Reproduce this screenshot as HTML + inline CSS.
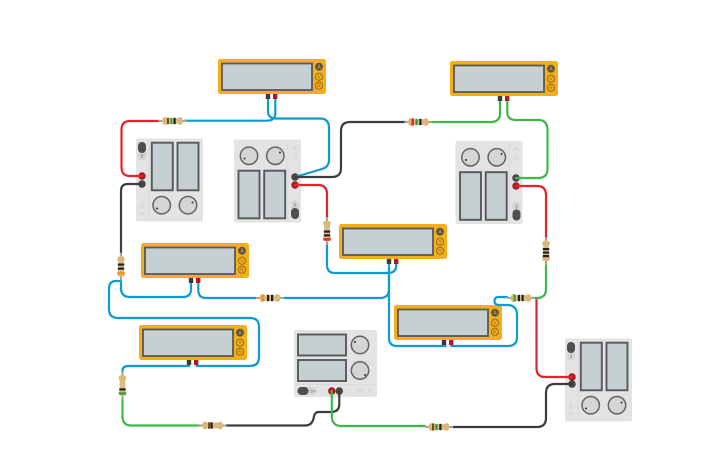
<!DOCTYPE html>
<html>
<head>
<meta charset="utf-8">
<style>
html,body{margin:0;padding:0;background:#fff;width:725px;height:453px;overflow:hidden}
svg{display:block}
text{font-family:"Liberation Sans",sans-serif}
</style>
</head>
<body>
<svg width="725" height="453" viewBox="0 0 725 453" xmlns="http://www.w3.org/2000/svg">
<defs>
<g id="meter">
  <rect x="0" y="0" width="108" height="35" rx="2.5" fill="#f5ae1b"/>
  <rect x="4" y="4.500" width="90" height="26.500" fill="#c6cfd1" stroke="#55595a" stroke-width="1.800"/>
  <circle cx="101" cy="7.700" r="3.900" fill="#55534c"/>
  <circle cx="101" cy="17.700" r="3.600" fill="none" stroke="#8a6a1c" stroke-width=".9"/>
  <circle cx="101" cy="26.700" r="3.600" fill="none" stroke="#8a6a1c" stroke-width=".9"/>
  <text x="101" y="9.500" font-size="5" text-anchor="middle" fill="#f5ae1b">A</text>
  <text x="101" y="19.500" font-size="5" text-anchor="middle" fill="#8a6a1c">V</text>
  <text x="101" y="28.500" font-size="5" text-anchor="middle" fill="#8a6a1c">R</text>
</g>
<g id="supply">
  <rect x="0" y="0" width="67" height="83" rx="1.500" fill="#e3e3e3"/>
  <rect x="12.800" y="0" width=".6" height="83" fill="#d4d4d4"/>
  <rect x="15.800" y="4.200" width="21" height="47.600" fill="#c6cfd1" stroke="#55595a" stroke-width="1.900"/>
  <rect x="41.500" y="4.200" width="21" height="47.600" fill="#c6cfd1" stroke="#55595a" stroke-width="1.900"/>
  <circle cx="25.700" cy="66.700" r="8.700" fill="#d4d6d6" stroke="#636363" stroke-width="1.500"/>
  <circle cx="52" cy="66.700" r="8.700" fill="#d4d6d6" stroke="#636363" stroke-width="1.500"/>
  <circle cx="21" cy="70" r="1" fill="#333"/>
  <circle cx="56.500" cy="64" r="1" fill="#333"/>
  <rect x="2" y="4" width="8" height="18" rx="4" fill="#d4d4d4"/>
  <rect x="2" y="3.500" width="8" height="11" rx="4" fill="#4f4f4f"/>
  <rect x="5.200" y="15.500" width="1.600" height="4" fill="#aaa"/>
  <rect x="4" y="63" width="4" height="7" fill="#dcdcdc"/>
  <rect x="4" y="74" width="4" height="2" fill="#d5d5d5"/>
</g>
<g id="res">
  <rect x="-14" y="-1" width="28" height="2" fill="#a3a3a3"/>
  <rect x="-8" y="-2.800" width="16" height="5.600" fill="#d9bb85"/>
  <ellipse cx="-7.500" cy="0" rx="3" ry="3.900" fill="#dcb77a"/>
  <ellipse cx="7.500" cy="0" rx="3" ry="3.900" fill="#dcb77a"/>
</g>
</defs>

<use href="#supply" x="136" y="138.500"/>
<use href="#supply" x="565" y="338.500"/>
<use href="#supply" transform="rotate(180 267.500 181)" x="234" y="139.500"/>
<use href="#supply" transform="rotate(180 489 182.500)" x="455.500" y="141"/>

<rect x="294" y="330" width="83" height="67" rx="1.500" fill="#e3e3e3"/>
<rect x="294" y="384" width="83" height=".6" fill="#d4d4d4"/>
<rect x="298" y="334.500" width="48" height="21" fill="#c6cfd1" stroke="#55595a" stroke-width="1.900"/>
<rect x="298" y="360" width="48" height="21" fill="#c6cfd1" stroke="#55595a" stroke-width="1.900"/>
<circle cx="360" cy="345" r="8.700" fill="#d4d6d6" stroke="#636363" stroke-width="1.500"/>
<circle cx="360" cy="370.500" r="8.700" fill="#d4d6d6" stroke="#636363" stroke-width="1.500"/>
<circle cx="355" cy="342" r="1" fill="#333"/>
<circle cx="365" cy="375" r="1" fill="#333"/>
<rect x="298" y="387" width="18" height="8" rx="4" fill="#d4d4d4"/>
<rect x="297.500" y="387" width="11" height="8" rx="4" fill="#4f4f4f"/>
<text x="309.500" y="392.500" font-size="3.600" fill="#888">OFF</text>
<rect x="356" y="389" width="8" height="4" fill="#dcdcdc"/>
<rect x="369" y="389" width="2" height="4" fill="#d5d5d5"/>

<g fill="#c0141c" stroke="#8d1a1c" stroke-width=".6">
<circle cx="142" cy="176" r="3.400"/><circle cx="295" cy="185" r="3.400"/><circle cx="516" cy="186" r="3.400"/><circle cx="572" cy="377" r="3.400"/><circle cx="331.800" cy="391" r="3.400"/>
</g>
<g fill="#4a4a4a" stroke="#333" stroke-width=".6">
<circle cx="142" cy="184" r="3.400"/><circle cx="295" cy="177" r="3.400"/><circle cx="516" cy="178" r="3.400"/><circle cx="572" cy="384" r="3.400"/><circle cx="339.300" cy="391" r="3.400"/>
</g>

<use href="#meter" x="218" y="59"/>
<use href="#meter" x="450" y="61"/>
<use href="#meter" x="141" y="243"/>
<use href="#meter" x="139" y="325"/>
<use href="#meter" x="339" y="224"/>
<use href="#meter" x="394" y="305"/>

<g fill="none" stroke-width="2.200" stroke-linecap="round" stroke-linejoin="round">
<g stroke="#0f9bd2">
<path d="M275.300 98V113Q275.300 120.700 267 120.700H185"/>
<path d="M268 98V111Q268 118.500 276 118.500H320Q329 118.500 329 128V160Q329 167 322 169L295 177"/>
<path d="M327 243V265Q327 273 335 273H388Q396.300 273 396.300 265V263"/>
<path d="M389 263V338Q389 346 397 346H445.500"/>
<path d="M451.300 344V346H508Q517 346 517 337V315Q517 305 507 305H499Q494.500 305 494.500 301Q494.500 297 499 297H507"/>
<path d="M389 270V289Q389 298 380 298H284"/>
<path d="M198.300 283V290Q198.300 298 206 298H256"/>
<path d="M191 283V289Q191 297 183 297H130Q121 297 121 288V280"/>
<path d="M121 281H116Q109 281 109 289V309Q109 318 118 318H250Q259 318 259 327V357Q259 366 250 366H196.500"/>
<path d="M189 366H128Q122.500 366 122.500 371V374"/>
</g>
<g stroke="#e2252b">
<path d="M160 121H130Q121.500 121 121.500 130V167Q121.500 176 130 176H142"/>
<path d="M295 185H318Q327 185 327 194V219"/>
<path d="M516 186H537Q546 186 546 195V239"/>
<path d="M536.500 298V368Q536.500 377 545 377H572"/>
</g>
<g stroke="#3c3d3f">
<path d="M142 184H128Q121 184 121 191V254"/>
<path d="M295 177H332Q341 177 341 168V131Q341 122 350 122H406"/>
<path d="M572 384H555Q546 384 546 393V418Q546 427 537 427H453"/>
<path d="M339.300 391V404Q339.300 412 331 412H319Q315 412 314 416Q313 425.500 305 425.500H226"/>
</g>
<g stroke="#41b64b">
<path d="M432 122H491Q500 122 500 113V98"/>
<path d="M507.300 98V112Q507.300 120 516 120H538Q547.500 120 547.500 130V169Q547.500 178 538 178H516"/>
<path d="M546 263V289Q546 298 537 298H533"/>
<path d="M331.800 391V415Q331.800 426 341 426H425"/>
<path d="M200 425.500H131Q122.500 425.500 122.500 416V398"/>
</g>
</g>

<!-- probes over wires -->
<g fill="#3a3a3a">
<rect x="265.800" y="94" width="4.400" height="5"/><rect x="497.800" y="96" width="4.400" height="5"/><rect x="188.800" y="278" width="4.400" height="5"/><rect x="186.800" y="360" width="4.400" height="5"/><rect x="386.800" y="259" width="4.400" height="5"/><rect x="441.800" y="340" width="4.400" height="5"/>
</g>
<g fill="#a81e22">
<rect x="273" y="94" width="4.400" height="5"/><rect x="505" y="96" width="4.400" height="5"/><rect x="196" y="278" width="4.400" height="5"/><rect x="194" y="360" width="4.400" height="5"/><rect x="394" y="259" width="4.400" height="5"/><rect x="449" y="340" width="4.400" height="5"/>
</g>

<g transform="translate(172.500 121)"><use href="#res"/><rect x="-5.500" y="-3.200" width="2" height="6.400" fill="#7a4a20"/><rect x="-2.200" y="-3.200" width="2.200" height="6.400" fill="#3fa83f"/><rect x="1" y="-3.200" width="2.200" height="6.400" fill="#222"/></g>
<g transform="translate(418.500 122)"><use href="#res"/><rect x="-7" y="-3.600" width="2.400" height="7.200" fill="#e8201e"/><rect x="-3" y="-3.200" width="2.200" height="6.400" fill="#2f9f3f"/><rect x="0.800" y="-3.200" width="2.200" height="6.400" fill="#222"/></g>
<g transform="translate(270 298)"><use href="#res"/><rect x="-8.500" y="-3.600" width="2.400" height="7.200" fill="#f0931e"/><rect x="-3" y="-3.200" width="2.200" height="6.400" fill="#222"/><rect x="1" y="-3.200" width="2.200" height="6.400" fill="#222"/></g>
<g transform="translate(212.500 425.500)"><use href="#res"/><rect x="-4.500" y="-3.200" width="2.200" height="6.400" fill="#7a4a20"/><rect x="-2" y="-3.200" width="2.200" height="6.400" fill="#222"/></g>
<g transform="translate(439 427)"><use href="#res"/><rect x="-7" y="-3.600" width="2.200" height="7.200" fill="#7a4a20"/><rect x="-3.600" y="-3.200" width="2.200" height="6.400" fill="#2f9f3f"/><rect x="0.300" y="-3.200" width="2.200" height="6.400" fill="#222"/></g>
<g transform="translate(521 298)"><use href="#res"/><rect x="-7.500" y="-3.600" width="2.200" height="7.200" fill="#3f9f3f"/><rect x="-3.200" y="-3.200" width="2.200" height="6.400" fill="#222"/><rect x="0.500" y="-3.200" width="2.200" height="6.400" fill="#222"/></g>
<g transform="translate(121 266.500) rotate(90)"><use href="#res"/><rect x="-3" y="-3.200" width="2.200" height="6.400" fill="#222"/><rect x="1" y="-3.200" width="2.200" height="6.400" fill="#222"/><rect x="5.500" y="-3.600" width="2.400" height="7.200" fill="#f0931e"/></g>
<g transform="translate(122.500 385.500) rotate(90)"><use href="#res"/><rect x="2.800" y="-3.200" width="2.200" height="6.400" fill="#222"/><rect x="6.800" y="-3.600" width="2.400" height="7.200" fill="#2f9f3f"/></g>
<g transform="translate(327 231) rotate(90)"><use href="#res"/><rect x="-0.500" y="-3.200" width="2.200" height="6.400" fill="#222"/><rect x="3.300" y="-3.200" width="2.200" height="6.400" fill="#222"/><rect x="7.200" y="-3.600" width="2.400" height="7.200" fill="#e8201e"/></g>
<g transform="translate(546 251) rotate(90)"><use href="#res"/><rect x="-3" y="-3.200" width="2.200" height="6.400" fill="#222"/><rect x="0.500" y="-3.200" width="2.200" height="6.400" fill="#222"/><rect x="4" y="-3.200" width="2.200" height="6.400" fill="#222"/></g>
</svg>
</body>
</html>
